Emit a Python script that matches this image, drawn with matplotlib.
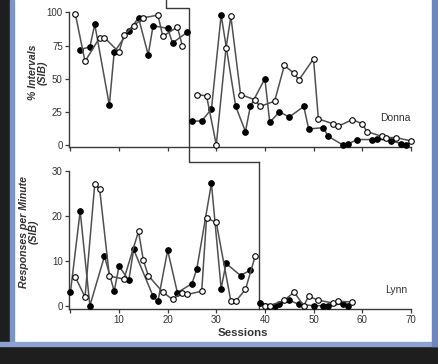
import matplotlib.pyplot as plt
from matplotlib.patches import Rectangle

# Donna - % intervals with SIB
donna_base_filled_x = [2, 4, 5, 8, 9, 12, 14, 16, 17, 20, 21, 24]
donna_base_filled_y = [72, 74, 91, 30, 70, 86, 96, 68, 90, 88, 77, 85]
donna_base_open_x = [1, 3, 6, 7, 10, 11, 13, 15, 18, 19, 22, 23]
donna_base_open_y = [99, 63, 81, 81, 70, 83, 90, 96, 98, 82, 89, 75]
donna_treat_filled_x = [25, 27, 29, 31, 34, 36, 37, 40, 41, 43, 45, 48, 49,
                        52, 53, 56, 57, 59, 62, 63, 66, 68, 69]
donna_treat_filled_y = [18, 18, 27, 98, 29, 10, 29, 50, 17, 25, 21, 29, 12,
                        13, 6.5, 0, 0.5, 4, 4, 4.5, 3, 1, 0]
donna_treat_open_x = [26, 28, 30, 32, 33, 35, 38, 39, 42, 44, 46, 47, 50,
                      51, 54, 55, 58, 60, 61, 64, 65, 67, 70]
donna_treat_open_y = [38, 37, 0, 73, 97, 38, 34, 29, 33, 60, 54, 49, 65,
                      19.5, 16, 14, 19, 16, 10, 6.5, 5.5, 5.5, 3]

# Lynn - responses per minute
lynn_base_filled_x = [0, 2, 4, 7, 9, 10, 12, 13, 17, 18, 20, 22, 25, 26,
                      29, 31, 32, 35, 37]
lynn_base_filled_y = [3, 21, 0, 11, 3.2, 8.8, 5.6, 12.5, 2.1, 1, 12.3, 2.9,
                      4.9, 8.2, 27.2, 3.8, 9.4, 6.7, 7.9]
lynn_base_open_x = [1, 3, 5, 6, 8, 11, 14, 15, 16, 19, 21, 23, 24, 27, 28,
                    30, 33, 34, 36, 38]
lynn_base_open_y = [6.4, 1.9, 27, 26, 6.6, 5.9, 16.5, 10.1, 6.7, 3, 1.4,
                    2.9, 2.5, 3.2, 19.5, 18.5, 1, 1, 3.6, 11]
lynn_treat_filled_x = [39, 42, 43, 45, 47, 50, 52, 53, 56, 57]
lynn_treat_filled_y = [0.6, 0, 0.4, 1.2, 0.3, 0, 0, 0, 0.4, 0]
lynn_treat_open_x = [40, 41, 44, 46, 48, 49, 51, 54, 55, 58]
lynn_treat_open_y = [0, 0, 1.2, 3, 0, 2.1, 1.2, 0.6, 1, 0.8]

donna_yticks = [0, 25, 50, 75, 100]
lynn_yticks = [0, 10, 20, 30]
session_ticks = [0, 10, 20, 30, 40, 50, 60, 70]

LINE = '#505050'
TEXT = '#333333'
FONT = 'Liberation Sans'


def plot_series(ax, x, y, filled):
    face = 'black' if filled else 'white'
    ax.plot(x, y, color=LINE, lw=1.1, marker='o', ms=4.0,
            mfc=face, mec='black', mew=0.8, zorder=3, clip_on=False)


def style_axes(ax, yticks, ylim, show_xlabels):
    ax.set_xlim(-0.3, 70.05)
    ax.set_ylim(*ylim)
    for side in ['top', 'right']:
        ax.spines[side].set_visible(False)
    for side in ['left', 'bottom']:
        ax.spines[side].set_color('#3a3a3a')
        ax.spines[side].set_linewidth(1.0)
    ax.set_yticks(yticks)
    ax.set_xticks(session_ticks)
    ax.tick_params(direction='out', length=3, width=0.9, color='#3a3a3a',
                   labelsize=7, labelcolor=TEXT, pad=1.5)
    if show_xlabels:
        ax.set_xticklabels([''] + [str(t) for t in session_ticks[1:]])
    else:
        ax.set_xticklabels([])
    for lab in ax.get_xticklabels() + ax.get_yticklabels():
        lab.set_family(FONT)


fig = plt.figure(figsize=(4.38, 3.64), dpi=100)
fig.patch.set_facecolor('white')

ax1 = fig.add_axes([0.1575, 0.5948, 0.7808, 0.3709])
ax2 = fig.add_axes([0.1575, 0.1516, 0.7808, 0.3794])

# Donna
plot_series(ax1, donna_base_filled_x, donna_base_filled_y, True)
plot_series(ax1, donna_base_open_x, donna_base_open_y, False)
plot_series(ax1, donna_treat_filled_x, donna_treat_filled_y, True)
plot_series(ax1, donna_treat_open_x, donna_treat_open_y, False)
style_axes(ax1, donna_yticks, (-2, 100), False)
ax1.text(70.05, 20, 'Donna', ha='right', va='center', fontsize=7.5,
         color=TEXT, family=FONT)

# Lynn
plot_series(ax2, lynn_base_filled_x, lynn_base_filled_y, True)
plot_series(ax2, lynn_base_open_x, lynn_base_open_y, False)
plot_series(ax2, lynn_treat_filled_x, lynn_treat_filled_y, True)
plot_series(ax2, lynn_treat_open_x, lynn_treat_open_y, False)
style_axes(ax2, lynn_yticks, (-0.7, 30), True)
ax2.text(69.3, 3.4, 'Lynn', ha='right', va='center', fontsize=7.5,
         color=TEXT, family=FONT)

# staircase phase-change line
ax1.plot([19.7, 19.7, 24.3, 24.3, 38.7], [115, 103.4, 103.4, -12.9, -12.9],
         color='#3a3a3a', lw=1.0, clip_on=False, zorder=2)
ax2.plot([38.7, 38.7], [31.9, -0.7], color='#3a3a3a', lw=1.0,
         clip_on=False, zorder=2)

# axis titles
fig.text(38 / 438, 1 - 72.5 / 364, '% Intervals\n(SIB)', rotation=90,
         ha='center', va='center', multialignment='center', fontsize=7.6,
         fontweight='bold', style='italic', color=TEXT, family=FONT,
         linespacing=1.0)
fig.text(29 / 438, 1 - 231.7 / 364, 'Responses per Minute\n(SIB)',
         rotation=90, ha='center', va='center', multialignment='center',
         fontsize=7.6, fontweight='bold', style='italic', color=TEXT,
         family=FONT, linespacing=1.0)
fig.text(243 / 438, 1 - 333 / 364, 'Sessions', ha='center', va='center',
         fontsize=8.2, fontweight='bold', color=TEXT, family=FONT)

# dark photo border around the page
W, H = 438.0, 364.0
border = [
    (0, 0, 10, H, '#1e1e1e'),
    (10, 18, 3.5, H - 18, '#7f94c6'),
    (0, 0, W, 18, '#1e1e1e'),
    (0, 18, W, 4, '#8ea2d2'),
    (432, 18, 6, H - 18, '#6f86bd'),
]
for x0, y0, w, h, c in border:
    fig.patches.append(Rectangle((x0 / W, y0 / H), w / W, h / H,
                                 transform=fig.transFigure, color=c,
                                 zorder=-5))

fig.savefig('out.png', dpi=100)
